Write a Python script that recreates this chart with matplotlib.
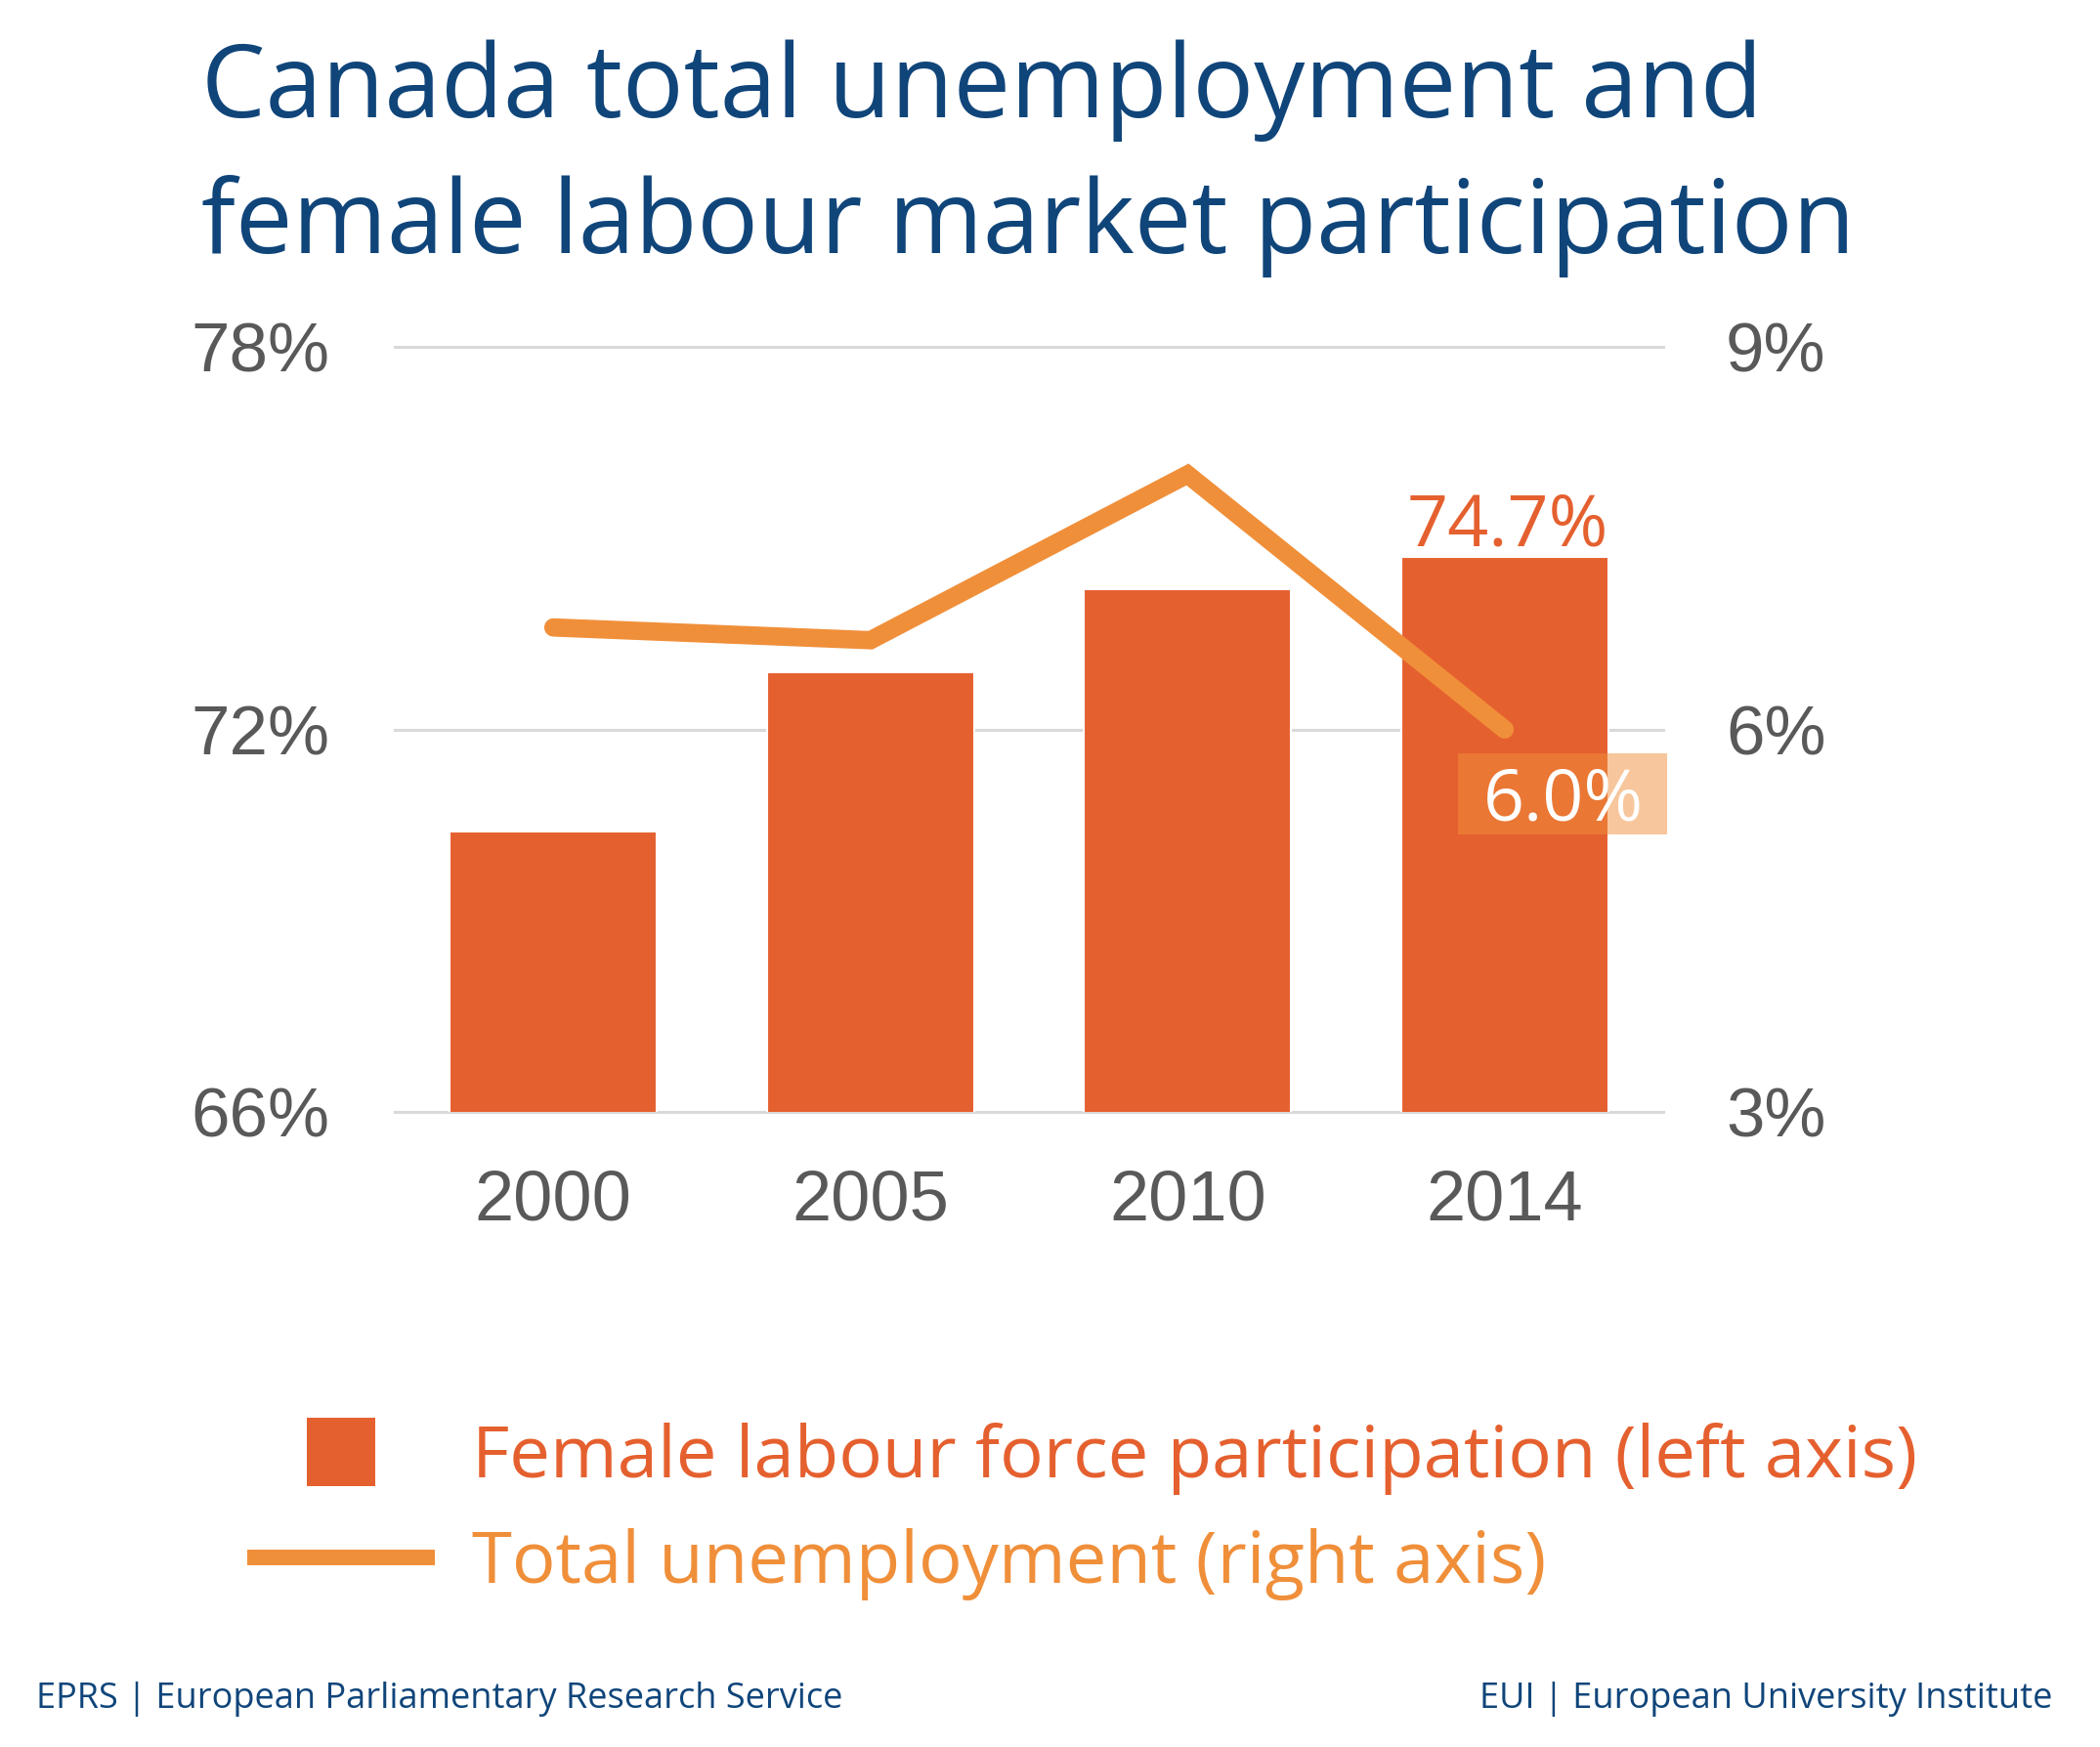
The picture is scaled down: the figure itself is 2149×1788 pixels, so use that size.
import matplotlib
matplotlib.use("Agg")
import matplotlib.pyplot as plt
from matplotlib.lines import Line2D
from matplotlib.patches import Rectangle

# Données
annees = ["2000", "2005", "2010", "2014"]
participation_femmes = [70.4, 72.9, 74.2, 74.7]  # axe gauche (%)
chomage_total = [6.8, 6.7, 8.0, 6.0]  # axe droit (%)
ticks_gauche = [66, 72, 78]
ticks_droite = [3, 6, 9]
legendes = ["Female labour force participation (left axis)", "Total unemployment (right axis)"]

# Couleurs
ROUGE = "#e5602f"
ORANGE = "#f08f3a"
BLEU = "#10457a"
GRIS = "#595959"
GRILLE = "#d9d9d9"

# Polices
TEXTE = ["Open Sans", "DejaVu Sans"]
plt.rcParams["font.family"] = ["Liberation Sans", "DejaVu Sans"]

fig = plt.figure(figsize=(21.49, 17.88), dpi=100, facecolor="white")
ax = fig.add_axes([0.1880, 0.3635, 0.6040, 0.4379])
ax2 = ax.twinx()

x = list(range(len(annees)))

# Barres : participation des femmes
ax.bar(x, participation_femmes, width=0.653, color=ROUGE, edgecolor="white", linewidth=1.5, zorder=2)
ax.set_xlim(-0.5, 3.5)
ax.set_ylim(66, 78)
ax.set_xticks(x)
ax.set_xticklabels(annees)
ax.set_yticks(ticks_gauche)
ax.set_yticklabels([f"{v}%" for v in ticks_gauche])
ax.yaxis.grid(True, color=GRILLE, linewidth=2.2)
ax.set_axisbelow(True)
for g in ax.get_ygridlines():
    g.set_clip_on(False)  # la ligne du bas reste entière

# Ligne : chômage total
ax2.plot(x, chomage_total, color=ORANGE, linewidth=13.5, solid_capstyle="round",
         solid_joinstyle="miter", zorder=3)
ax2.set_ylim(3, 9)
ax2.set_yticks(ticks_droite)
ax2.set_yticklabels([f"{v}%" for v in ticks_droite])

for a in (ax, ax2):
    for s in a.spines.values():
        s.set_visible(False)
ax.tick_params(axis="y", length=0, pad=48, labelsize=51, labelcolor=GRIS)
ax.tick_params(axis="x", length=0, pad=42, labelsize=52, labelcolor=GRIS)
ax2.tick_params(axis="y", length=0, pad=46, labelsize=51, labelcolor=GRIS)

# Étiquette de la dernière barre
ax.annotate(f"{participation_femmes[-1]:.1f}%", xy=(x[-1], participation_femmes[-1]),
            xytext=(3, 12), textcoords="offset pixels", ha="center", va="baseline",
            fontsize=53, color=ROUGE, family=TEXTE)

# Étiquette de la dernière valeur de chômage, sur fond orange transparent
ax2.add_patch(Rectangle((x[-1] - 0.147, chomage_total[-1] - 0.824), 0.66, 0.636,
                        facecolor=ORANGE, alpha=0.5, edgecolor="none", clip_on=False, zorder=4))
ax2.annotate(f"{chomage_total[-1]:.1f}%", xy=(x[-1], chomage_total[-1]),
             xytext=(60, -93), textcoords="offset pixels", ha="center", va="baseline",
             fontsize=53, color="white", family=TEXTE, zorder=5)

# Titre
fig.text(0.0958, 1 - 120 / 1788, "Canada total unemployment and", fontsize=75,
         color=BLEU, family=TEXTE, va="baseline")
fig.text(0.0958, 1 - 259 / 1788, "female labour market participation", fontsize=75,
         color=BLEU, family=TEXTE, va="baseline")

# Légende
poignees = [
    Line2D([], [], marker="s", markersize=51, markeredgewidth=0, linestyle="none", color=ROUGE),
    Line2D([], [], color=ORANGE, linewidth=11.5, solid_capstyle="butt"),
]
leg = fig.legend(poignees, legendes, loc="center left", bbox_to_anchor=(0.1177, 0.1348),
                 frameon=False, handlelength=2.58, handletextpad=0.52, labelspacing=0.47,
                 borderpad=0, borderaxespad=0, prop={"family": TEXTE, "size": 53.5})
for t, c in zip(leg.get_texts(), [ROUGE, ORANGE]):
    t.set_color(c)

# Pied de page
fig.text(0.0172, 1 - 1748 / 1788, "EPRS | European Parliamentary Research Service",
         fontsize=26, color=BLEU, family=TEXTE, va="baseline")
fig.text(0.9772, 1 - 1748 / 1788, "EUI | European University Institute",
         fontsize=26, color=BLEU, family=TEXTE, va="baseline", ha="right")

fig.savefig("out.png", dpi=100, facecolor="white")
